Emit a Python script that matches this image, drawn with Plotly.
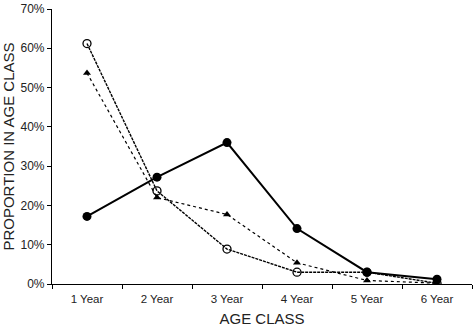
import plotly.graph_objects as go

categories = ["1 Year", "2 Year", "3 Year", "4 Year", "5 Year", "6 Year"]
filled_circle = [17.2, 27.2, 36.0, 14.1, 3.0, 1.2]
open_circle = [61.2, 23.7, 8.9, 3.0, 3.0, 0.2]
triangle = [53.7, 22.0, 17.7, 5.4, 0.9, 0.2]
y_ticks = [0, 10, 20, 30, 40, 50, 60, 70]
y_labels = [f"{v}%" for v in y_ticks]

fig = go.Figure()
fig.add_trace(go.Scatter(x=categories, y=triangle, mode="lines+markers",
                         line=dict(color="black", width=1.2, dash="dot"),
                         marker=dict(symbol="triangle-up", size=7, color="black")))
fig.add_trace(go.Scatter(x=categories, y=open_circle, mode="lines+markers",
                         line=dict(color="black", width=1.4, dash="3px,1px"),
                         marker=dict(symbol="circle-open", size=8, color="black", line=dict(width=1.3))))
fig.add_trace(go.Scatter(x=categories, y=filled_circle, mode="lines+markers",
                         line=dict(color="black", width=2),
                         marker=dict(symbol="circle", size=9, color="black")))

font = "Liberation Sans, Arial, sans-serif"
fig.update_layout(
    width=474, height=327, showlegend=False,
    margin=dict(l=52, r=2, t=6, b=43),
    plot_bgcolor="white", paper_bgcolor="white",
    font=dict(family=font, color="#222", size=11),
    xaxis=dict(type="category", range=[-0.5, 5.5], showline=True, linecolor="black", linewidth=1.2,
               ticks="outside", tickson="boundaries", ticklen=4, tickcolor="black",
               showgrid=False, zeroline=False, tickfont=dict(size=11.5), ticklabelstandoff=4,
               title=dict(text="AGE CLASS", font=dict(size=15), standoff=10)),
    yaxis=dict(range=[0, 70], tickvals=y_ticks, ticktext=y_labels, showline=True, linecolor="black",
               linewidth=1.2, ticks="outside", ticklen=4, tickcolor="black", showgrid=False,
               zeroline=False, tickfont=dict(size=12), ticklabeloverflow="allow",
               title=dict(text="PROPORTION IN AGE CLASS", font=dict(size=15), standoff=4)),
)
fig.write_html("out.html")
